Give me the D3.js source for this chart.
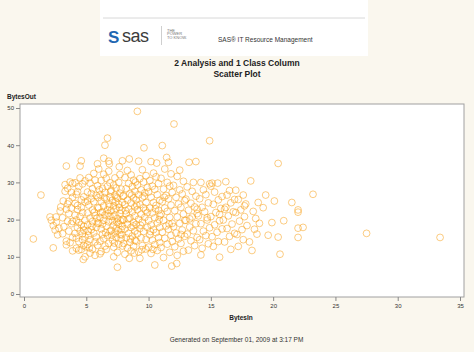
<!DOCTYPE html>
<html>
<head>
<meta charset="utf-8">
<script src="https://cdn.jsdelivr.net/npm/d3@7"></script>
<style>
  html, body { margin: 0; padding: 0; background: #faf7ee; }
  svg { display: block; font-family: "Liberation Sans", Arial, sans-serif; }
</style>
</head>
<body>
<div id="chart"></div>
<script>
const titleLines = ['2 Analysis and 1 Class Column', 'Scatter Plot'];
const xLabel = 'BytesIn';
const yLabel = 'BytesOut';
const footer = 'Generated on September 01, 2009 at 3:17 PM';
const xTicks = [0, 5, 10, 15, 20, 25, 30, 35];
const yTicks = [0, 10, 20, 30, 40, 50];

// [BytesIn, BytesOut]
const points = [
  [0.75,14.8],[1.36,26.6],
  [2.09,20.7],[2.35,12.4],[2.57,20.7],[2.35,18.4],[2.8,17.7],[2.95,23.4],[2.6,19.3],[2.2,19.8],[2.9,22.3],[2.7,15.9],[2.5,17.2],
  [3.1,20.5],[3.15,25.0],[3.4,22.8],[3.6,16.9],[3.4,13.2],[3.4,14.2],[3.4,34.4],[3.5,28.4],[3.3,29.4],[3.7,30.1],[3.8,27.3],[3.2,18.1],[3.9,19.5],[3.6,21.6],[3.5,24.2],[3.8,23.1],[3.9,26.0],[3.7,13.8],[3.9,15.2],[3.1,16.2],[3.8,18.9],[3.5,19.6],[3.9,11.6],[3.6,24.9],[3.3,27.6],[3.9,29.7],
  [4.5,34.4],[4.6,35.8],[4.76,9.3],[4.9,10.0],[4.2,12.3],[4.4,14.1],[4.1,16.3],[4.3,17.8],[4.6,18.6],[4.8,17.2],[4.2,19.9],[4.5,20.8],[4.7,21.9],[4.3,22.7],[4.1,24.3],[4.6,25.3],[4.8,26.1],[4.2,26.8],[4.4,28.9],[4.7,29.6],[4.1,29.9],[4.9,30.4],[4.5,31.2],[4.3,23.8],[4.8,13.1],[4.6,12.0],[4.9,15.3],[4.2,15.0],[4.7,16.2],[4.4,19.2],[4.9,19.8],[4.1,21.2],[4.6,23.3],[4.9,24.7],[4.3,27.5],[4.7,14.6],[4.5,16.9],[4.8,18.2],[4.4,11.8],[4.95,12.7],
  [5.24,12.4],[5.1,13.3],[5.5,12.1],[5.3,14.6],[5.7,14.0],[5.9,13.1],[5.2,15.8],[5.6,16.4],[5.4,17.3],[5.8,17.9],[5.1,18.6],[5.5,19.5],[5.9,19.0],[5.3,20.4],[5.7,21.1],[5.1,21.8],[5.5,22.6],[5.9,23.2],[5.2,23.9],[5.6,24.8],[5.4,25.7],[5.8,26.5],[5.1,27.4],[5.5,28.3],[5.9,29.1],[5.3,29.8],[5.7,30.6],[5.2,31.3],[5.9,35.0],[6.0,33.6],[5.6,32.4],[5.4,27.0],[5.8,15.3],[5.3,11.0],[5.7,10.4],[5.1,25.0],[5.95,25.9],[5.45,18.2],[5.65,22.0],[5.15,16.9],[5.85,20.3],
  [6.2,11.4],[6.5,12.9],[6.1,14.2],[6.4,14.9],[6.8,13.6],[6.3,16.1],[6.7,15.7],[6.9,16.8],[6.2,17.5],[6.6,18.3],[6.0,19.1],[6.4,19.8],[6.8,19.4],[6.1,20.6],[6.5,21.2],[6.9,20.9],[6.3,22.0],[6.7,22.6],[6.0,23.1],[6.4,23.7],[6.8,24.2],[6.2,24.9],[6.6,25.5],[6.9,26.1],[6.1,26.7],[6.5,27.3],[6.3,28.4],[6.7,29.0],[6.9,29.9],[6.2,30.5],[6.6,31.1],[6.4,32.2],[6.8,33.0],[6.4,36.5],[6.8,35.7],[6.85,35.0],[6.5,40.0],[6.7,41.9],[6.1,10.8],[6.6,12.0],[6.3,18.8],[6.75,21.6],[6.45,25.9],[6.05,28.0],[6.95,27.5],[6.55,16.5],[6.85,23.5],[6.15,21.9],
  [7.5,7.2],[7.2,12.6],[7.6,13.4],[7.9,12.9],[7.1,14.5],[7.4,15.2],[7.8,14.8],[7.3,16.4],[7.7,16.0],[7.0,17.1],[7.4,17.7],[7.8,17.3],[7.2,18.5],[7.6,18.9],[7.9,18.2],[7.1,19.7],[7.5,20.3],[7.9,20.0],[7.3,21.2],[7.7,21.7],[7.0,22.4],[7.4,22.9],[7.8,22.5],[7.2,23.7],[7.6,24.1],[7.9,24.6],[7.1,25.2],[7.5,25.8],[7.3,26.6],[7.7,27.1],[7.0,27.9],[7.4,28.5],[7.8,28.2],[7.2,29.3],[7.6,30.0],[7.3,31.2],[7.7,32.1],[7.65,34.2],[7.9,35.8],[7.5,11.2],[7.2,10.0],[7.85,15.9],[7.45,19.3],[7.15,20.9],[7.65,23.3],[7.35,24.8],[7.55,17.0],[7.05,15.8],[7.95,26.3],[7.25,13.7],[7.75,19.7],[7.4,26.1],
  [8.45,36.3],[8.45,9.6],[8.1,10.7],[8.6,11.6],[8.3,12.4],[8.8,12.9],[8.0,13.6],[8.5,13.9],[8.9,14.4],[8.2,15.1],[8.7,15.6],[8.4,16.3],[8.9,16.9],[8.1,17.5],[8.6,17.9],[8.3,18.7],[8.8,19.2],[8.0,19.9],[8.5,20.4],[8.9,21.0],[8.2,21.6],[8.7,22.1],[8.4,22.8],[8.9,23.4],[8.1,24.0],[8.6,24.5],[8.3,25.2],[8.8,25.8],[8.0,26.4],[8.5,27.0],[8.9,27.6],[8.2,28.3],[8.7,28.9],[8.4,29.7],[8.8,30.6],[8.1,31.3],[8.6,32.0],[8.95,30.1],[8.3,33.2],[8.55,14.8],[8.75,18.3],[8.15,22.4],[8.65,26.6],[8.35,20.2],[8.85,11.0],
  [9.3,9.6],[9.1,49.1],[9.63,39.3],[9.77,12.1],[9.2,11.3],[9.5,13.0],[9.0,14.2],[9.4,15.1],[9.8,14.7],[9.1,16.2],[9.6,16.8],[9.3,17.6],[9.9,17.9],[9.0,18.7],[9.5,19.3],[9.2,20.1],[9.7,20.6],[9.4,21.4],[9.9,21.9],[9.1,22.7],[9.6,23.2],[9.3,24.0],[9.8,24.6],[9.0,25.3],[9.5,25.9],[9.2,26.7],[9.7,27.2],[9.4,28.0],[9.9,28.6],[9.1,29.3],[9.6,30.1],[9.3,31.0],[9.8,31.8],[9.5,33.4],[9.2,35.7],[9.75,22.5],[9.35,18.5],[9.05,23.9],[9.65,26.3],[9.45,11.9],
  [10.5,7.8],[10.2,10.9],[10.7,11.7],[10.0,12.6],[10.5,13.3],[10.9,13.8],[10.3,14.5],[10.8,15.2],[10.1,15.9],[10.6,16.5],[10.4,17.3],[10.9,17.9],[10.2,18.6],[10.7,19.1],[10.0,19.8],[10.5,20.5],[10.9,21.1],[10.3,21.8],[10.8,22.5],[10.1,23.1],[10.6,23.8],[10.4,24.6],[10.9,25.2],[10.2,26.0],[10.7,26.7],[10.0,27.4],[10.5,28.1],[10.3,29.0],[10.8,29.7],[10.1,30.5],[10.6,31.5],[10.4,32.5],[10.2,35.6],[10.65,35.2],[10.85,20.0],[10.15,16.8],[10.55,22.9],[10.35,12.0],
  [11.1,39.9],[11.45,36.7],[11.6,35.4],[11.86,7.5],[11.2,9.8],[11.7,11.2],[11.0,12.5],[11.5,13.4],[11.9,14.1],[11.3,15.0],[11.8,15.8],[11.1,16.6],[11.6,17.4],[11.4,18.3],[11.9,19.0],[11.2,19.8],[11.7,20.6],[11.0,21.5],[11.5,22.2],[11.3,23.1],[11.8,23.9],[11.1,24.8],[11.6,25.6],[11.4,26.5],[11.9,27.3],[11.2,28.2],[11.7,29.0],[11.5,30.0],[11.0,31.1],[11.8,32.3],[11.3,33.6],[11.65,18.8],[11.25,26.0],
  [12.04,45.7],[12.26,8.2],[12.5,33.3],[12.3,10.4],[12.8,11.5],[12.1,12.7],[12.6,13.6],[12.4,14.8],[12.9,15.5],[12.2,16.4],[12.7,17.2],[12.0,18.1],[12.5,19.0],[12.9,19.8],[12.3,20.7],[12.8,21.5],[12.1,22.4],[12.6,23.3],[12.4,24.2],[12.9,25.1],[12.2,26.0],[12.7,26.9],[12.5,28.0],[12.0,29.2],[12.8,30.3],[12.3,31.6],[12.6,16.0],
  [13.25,35.4],[13.8,35.6],[13.2,11.8],[13.7,13.0],[13.4,14.3],[13.9,15.2],[13.1,16.1],[13.6,17.0],[13.3,18.0],[13.8,18.9],[13.0,19.8],[13.5,20.7],[13.9,21.6],[13.2,22.5],[13.7,23.4],[13.4,24.4],[13.0,25.5],[13.8,26.3],[13.5,27.6],[13.1,28.8],[13.6,30.0],[13.9,22.8],[13.3,20.2],
  [14.2,10.5],[14.9,41.2],[14.3,12.3],[14.8,13.5],[14.1,14.6],[14.6,15.7],[14.4,16.9],[14.9,17.8],[14.2,18.9],[14.7,19.9],[14.0,21.0],[14.5,22.1],[14.3,23.3],[14.8,24.5],[14.1,25.6],[14.6,26.7],[14.4,28.0],[14.9,29.6],[14.2,30.0],[14.7,20.5],
  [15.7,9.9],[15.2,12.8],[15.6,14.1],[15.1,15.4],[15.5,16.6],[15.9,17.5],[15.3,18.6],[15.7,19.7],[15.0,20.8],[15.4,21.9],[15.8,23.0],[15.2,24.1],[15.6,25.3],[15.9,26.2],[15.3,27.4],[15.1,29.8],[15.55,29.8],[15.0,29.0],[15.7,21.4],
  [16.6,12.0],[16.2,30.2],[16.1,14.0],[16.5,15.5],[16.9,16.3],[16.3,17.6],[16.7,18.8],[16.0,19.9],[16.4,21.0],[16.8,22.1],[16.2,23.3],[16.6,24.5],[16.9,25.4],[16.3,26.6],[16.5,27.8],[16.1,22.8],
  [17.7,23.7],[17.2,12.8],[17.6,14.6],[17.1,16.0],[17.5,17.3],[17.9,18.4],[17.3,19.6],[17.7,20.8],[17.0,21.9],[17.4,22.6],[17.8,24.2],[17.2,25.4],[17.6,26.6],[17.0,27.9],
  [18.2,30.4],[18.6,20.3],[18.7,16.1],[18.3,11.7],[18.1,14.0],[18.5,17.4],[18.9,19.0],[18.4,22.2],[18.8,24.6],
  [19.4,26.6],[19.2,23.2],[19.9,19.2],[19.6,15.8],
  [20.4,35.1],[20.1,25.0],[20.85,19.7],[20.4,15.3],[20.55,10.7],
  [21.5,24.6],[22.0,22.6],[22.0,22.0],[22.0,17.7],[22.4,17.9],[22.0,15.2],[23.2,26.8],
  [27.5,16.3],[33.4,15.2]
];

const W = 474, H = 352;
const frame = {left: 20, right: 464, top: 104, bottom: 297};

const svg = d3.select('#chart').append('svg').attr('width', W).attr('height', H);

// banner
const banner = svg.append('g');
banner.append('rect').attr('x', 100).attr('y', 0).attr('width', 268).attr('height', 56).attr('fill', '#ffffff');
banner.append('line').attr('x1', 103).attr('x2', 365).attr('y1', 18).attr('y2', 18).attr('stroke', '#d8d8d8').attr('stroke-width', 1);
banner.append('text').attr('x', 108).attr('y', 43).style('font-size', '17px').style('font-weight', 'bold').style('fill', '#1f67b1').text('S');
banner.append('text').attr('x', 122).attr('y', 42).style('font-size', '18px').style('fill', '#3c3c3c').style('letter-spacing', '-0.5px').text('sas');
banner.append('line').attr('x1', 161.5).attr('x2', 161.5).attr('y1', 26).attr('y2', 45).attr('stroke', '#cfcfcf');
['THE', 'POWER', 'TO KNOW.'].forEach((t, i) => {
  banner.append('text').attr('x', 167).attr('y', 31.5 + i * 3.7).style('font-size', '4px').style('fill', '#777').text(t);
});
banner.append('text').attr('x', 218).attr('y', 41.5).style('font-size', '6.5px').style('fill', '#333').text('SAS\u00ae IT Resource Management');

// titles
titleLines.forEach((t, i) => {
  svg.append('text').attr('x', 237).attr('y', 65.5 + i * 11.5).attr('text-anchor', 'middle')
    .style('font-size', '8.5px').style('font-weight', 'bold').style('fill', '#222').text(t);
});
svg.append('text').attr('x', 7).attr('y', 99).style('font-size', '6.5px').style('font-weight', 'bold').style('fill', '#222').text(yLabel);

// plot frame
svg.append('rect').attr('x', frame.left).attr('y', frame.top)
  .attr('width', frame.right - frame.left).attr('height', frame.bottom - frame.top)
  .attr('fill', '#ffffff').attr('stroke', '#a0a0a0').attr('stroke-width', 1);

const x = d3.scaleLinear().domain([0, 35]).range([24, 460]);
const y = d3.scaleLinear().domain([0, 50]).range([294, 108]);

const xAxis = svg.append('g').attr('transform', `translate(0,${frame.bottom})`)
  .call(d3.axisBottom(x).tickValues(xTicks).tickSize(4).tickPadding(3));
const yAxis = svg.append('g').attr('transform', `translate(${frame.left},0)`)
  .call(d3.axisLeft(y).tickValues(yTicks).tickSize(4).tickPadding(2));
[xAxis, yAxis].forEach(a => {
  a.select('.domain').remove();
  a.selectAll('line').attr('stroke', '#888');
  a.selectAll('text').style('font-size', '6px').style('fill', '#333').style('font-family', '"Liberation Sans", Arial, sans-serif');
});

svg.append('g').selectAll('circle').data(points).enter().append('circle')
  .attr('cx', d => x(d[0])).attr('cy', d => y(d[1])).attr('r', 3.4)
  .attr('fill', 'none').attr('stroke', '#f7a11a').attr('stroke-width', 0.75).attr('stroke-opacity', 0.72);

svg.append('text').attr('x', 241).attr('y', 319.5).attr('text-anchor', 'middle')
  .style('font-size', '6.5px').style('font-weight', 'bold').style('fill', '#222').text(xLabel);
svg.append('text').attr('x', 236.5).attr('y', 341.5).attr('text-anchor', 'middle')
  .style('font-size', '6.5px').style('fill', '#333').text(footer);
</script>
</body>
</html>
